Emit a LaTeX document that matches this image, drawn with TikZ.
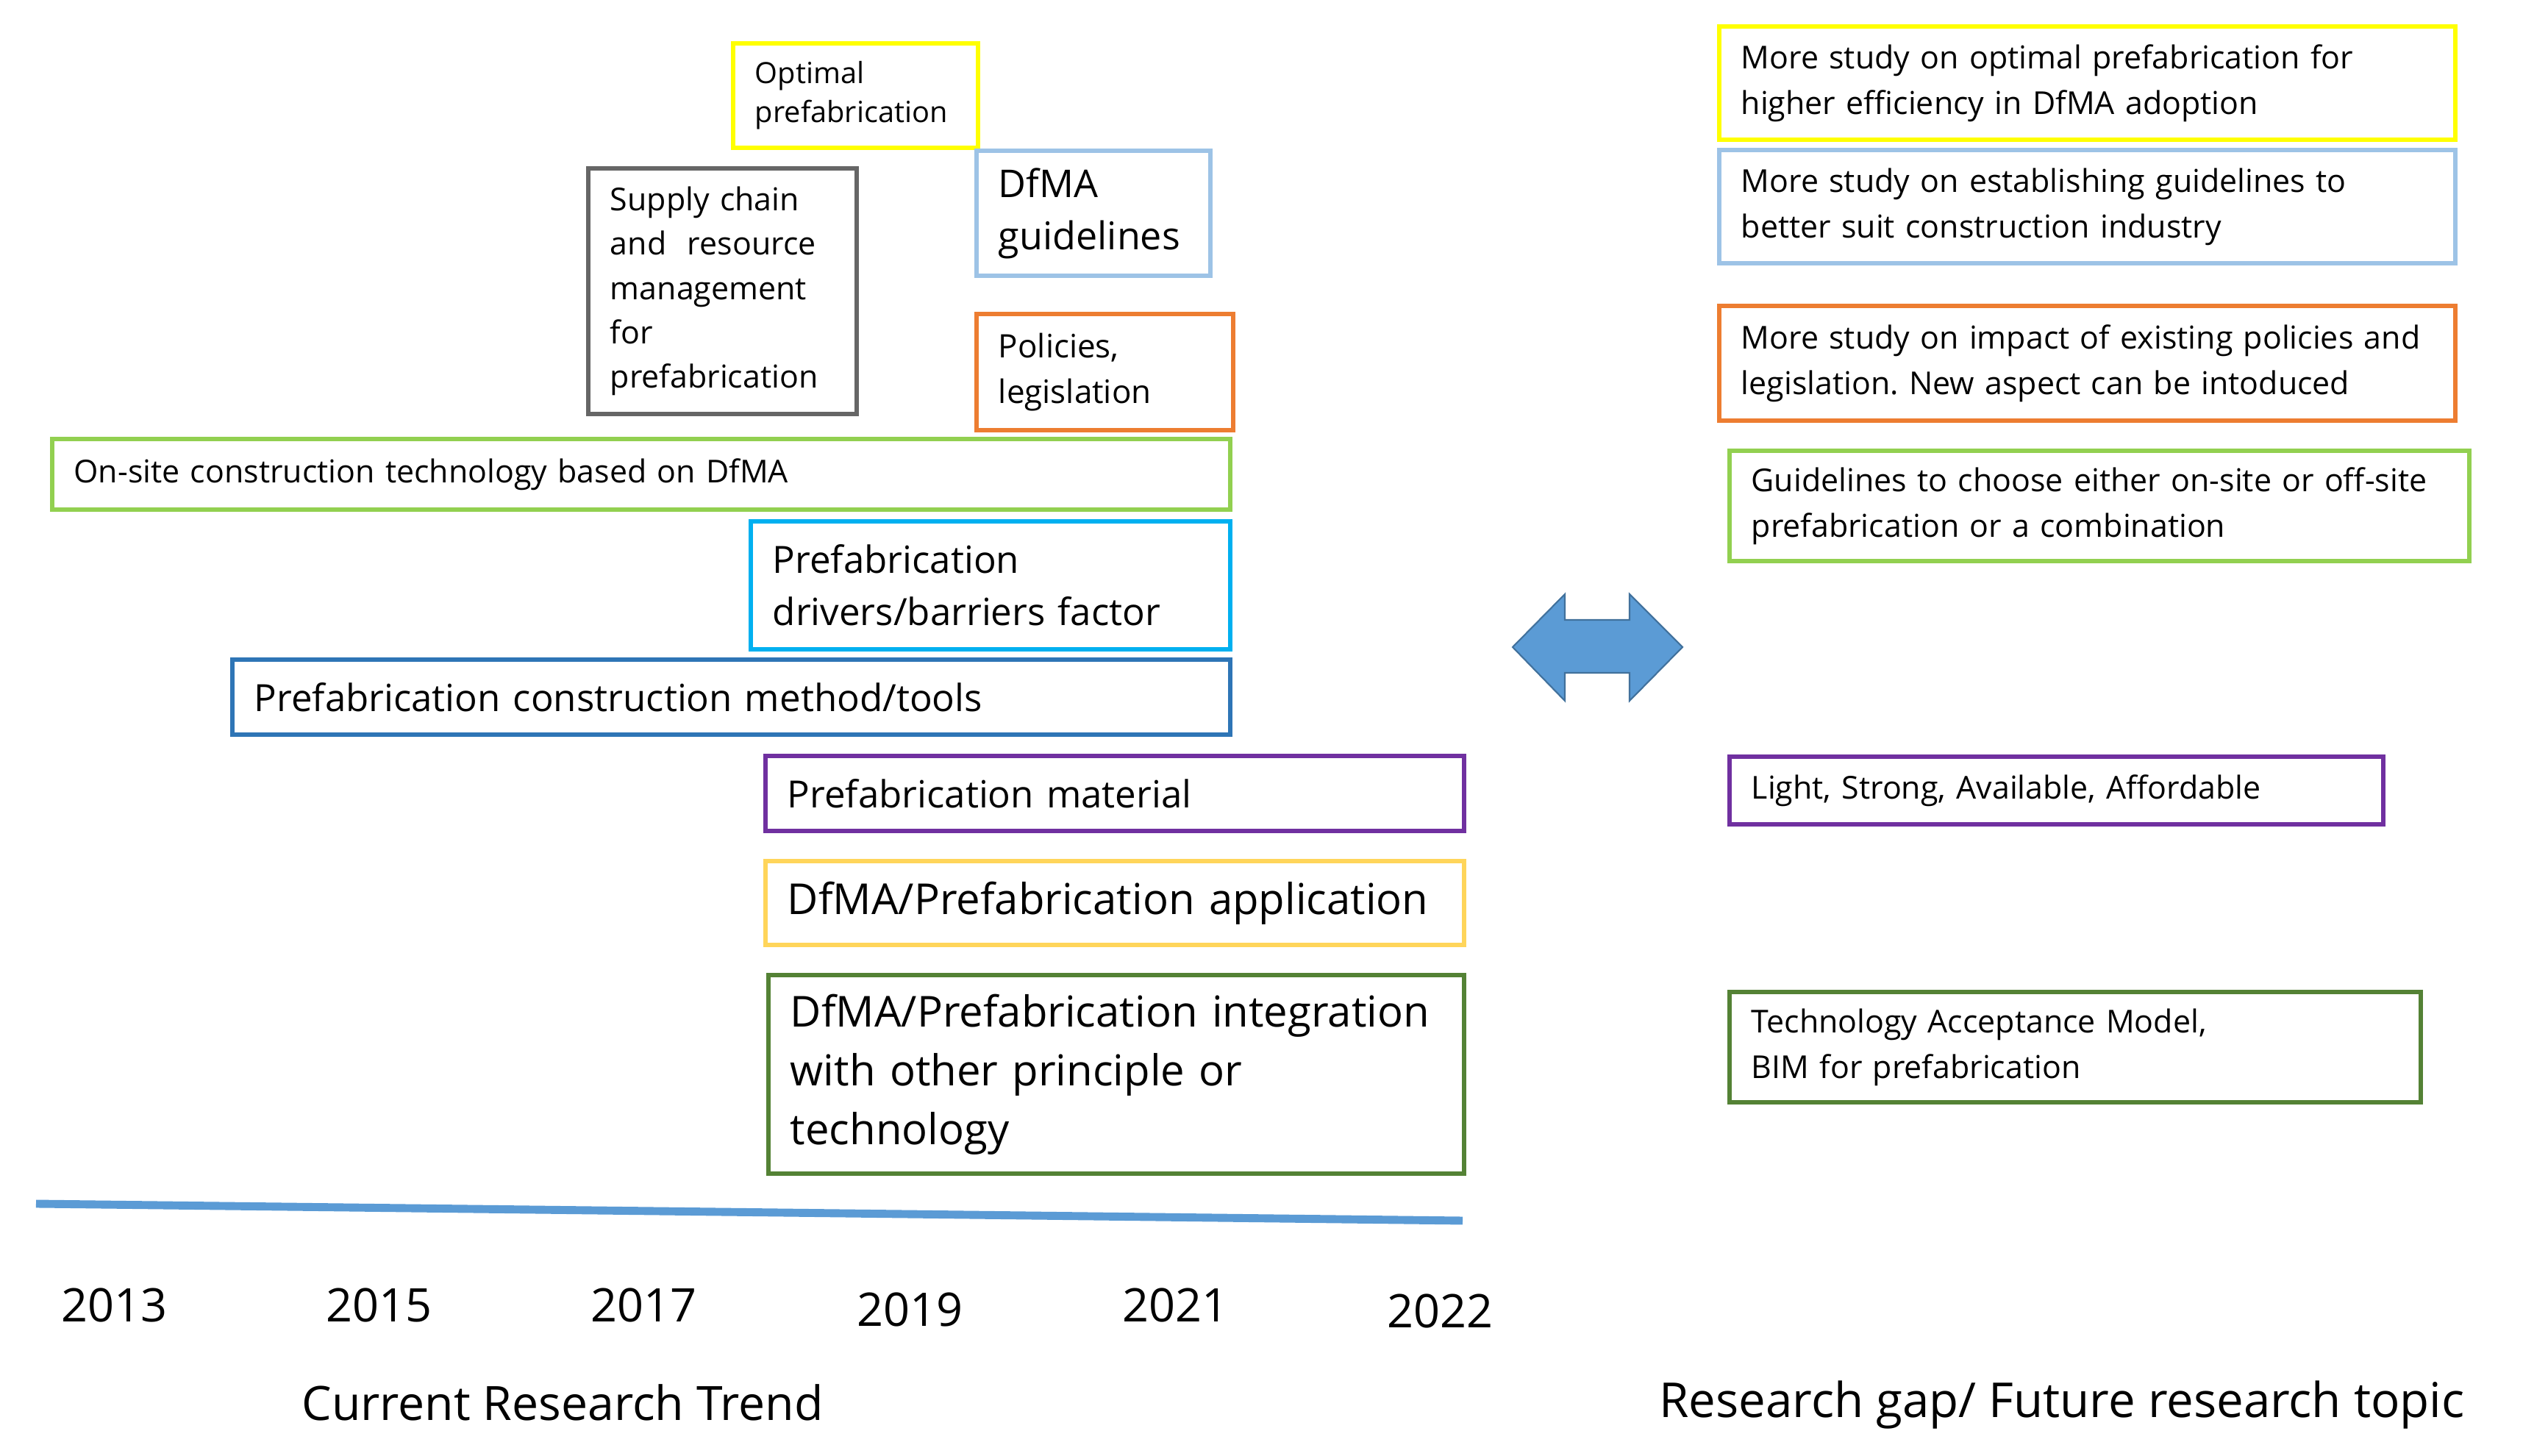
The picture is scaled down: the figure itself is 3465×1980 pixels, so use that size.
\documentclass[tikz,border=0pt]{standalone}
\usepackage{fontspec}
\setmainfont{Open Sans}
\definecolor{cyel}{HTML}{FFFF00}
\definecolor{clbl}{HTML}{9DC3E6}
\definecolor{cgry}{HTML}{666666}
\definecolor{corg}{HTML}{ED7D31}
\definecolor{clgr}{HTML}{92D050}
\definecolor{ccyn}{HTML}{00B0F0}
\definecolor{cblu}{HTML}{2E75B6}
\definecolor{cpur}{HTML}{7030A0}
\definecolor{cgld}{HTML}{FFD55A}
\definecolor{cdgr}{HTML}{548235}
\definecolor{carw}{HTML}{5B9BD5}
\definecolor{carb}{HTML}{41719C}
\newcommand{\nohyph}{\hyphenpenalty=10000 \exhyphenpenalty=10000 \frenchspacing}
\tikzset{
  box/.style={draw, line width=1.7pt, fill=white, align=left, inner xsep=0.30cm, inner ysep=0pt, anchor=center, text=black},
  fsmall/.style={font=\nohyph\fontsize{11.3pt}{15pt}\selectfont},
  fright/.style={font=\nohyph\fontsize{12.2pt}{17.6pt}\selectfont},
  fsup/.style={font=\nohyph\fontsize{12.2pt}{17.1pt}\selectfont},
  fmid/.style={font=\nohyph\fontsize{12.5pt}{17.6pt}\selectfont},
  fgdl/.style={font=\nohyph\fontsize{14.8pt}{20.2pt}\selectfont},
  fbig/.style={font=\nohyph\fontsize{14.5pt}{20.2pt}\selectfont},
  fhuge/.style={font=\nohyph\fontsize{16.5pt}{22.8pt}\selectfont},
  yearlbl/.style={font=\fontsize{17.9pt}{20pt}\selectfont, inner sep=0pt, anchor=center},
  titlelbl/.style={font=\fontsize{18.3pt}{21pt}\selectfont, inner sep=0pt, anchor=center},
  titlelblr/.style={font=\fontsize{18.6pt}{21pt}\selectfont, inner sep=0pt, anchor=center}
}
\begin{document}
\begin{tikzpicture}[x=0.01cm,y=-0.01cm]
\useasboundingbox[fill=white] (0,0) rectangle (3465,1980);

% left side: current research trend
\node[box, fsmall, draw=cyel, text width=2.73cm, minimum height=1.42cm] (opt) at (1163.5,130) {Optimal\\prefabrication};
\node[box, fsup, draw=cgry, text width=3.05cm, minimum height=3.33cm] (sup) at (982.5,396) {Supply chain\\and\ \ resource\\management\\for\\prefabrication};
\node[box, fgdl, draw=clbl, text width=2.58cm, minimum height=1.70cm] (gdl) at (1487,290) {DfMA\\guidelines};
\node[box, fmid, draw=corg, text width=2.89cm, minimum height=1.57cm] (pol) at (1502.5,506) {Policies,\\legislation};
\node[box, fsup, draw=clgr, text width=15.42cm, minimum height=0.95cm] (ons) at (872,645) {On-site construction technology based on DfMA};
\node[box, fbig, draw=ccyn, text width=5.92cm, minimum height=1.73cm] (drv) at (1347,796) {Prefabrication\\drivers/barriers factor};
\node[box, fbig, draw=cblu, text width=12.97cm, minimum height=1.02cm] (cst) at (994.5,948) {Prefabrication construction method/tools};
\node[box, fbig, draw=cpur, text width=8.90cm, minimum height=1.01cm] (mat) at (1516,1079) {Prefabrication material};
\node[box, fhuge, draw=cgld, text width=8.90cm, minimum height=1.13cm] (app) at (1516,1228) {DfMA/Prefabrication application};
\node[box, fhuge, draw=cdgr, text width=8.86cm, minimum height=2.69cm] (int) at (1518,1461) {DfMA/Prefabrication integration\\with other principle or\\technology};

% timeline
\coordinate (tl0) at (49,1637);
\coordinate (tl1) at (1989,1660);
\draw[carw, line width=3.1pt] (tl0) -- (tl1);
\node[yearlbl] (y13) at (155,1775) {2013};
\node[yearlbl] (y15) at (515,1775) {2015};
\node[yearlbl] (y17) at (875,1775) {2017};
\node[yearlbl] (y19) at (1237,1781) {2019};
\node[yearlbl] (y21) at (1598,1775) {2021};
\node[yearlbl] (y22) at (1958,1783) {2022};
\node[titlelbl] (ttl) at (765,1907) {Current Research Trend};

% double arrow
\draw[fill=carw, draw=carb, line width=0.6pt, line join=miter]
  (2057,880) -- (2128,808) -- (2128,843) -- (2216,843) -- (2216,808) -- (2288,880)
  -- (2216,953) -- (2216,915) -- (2128,915) -- (2128,953) -- cycle;

% right side: research gap
\node[box, fright, draw=cyel, text width=9.41cm, minimum height=1.53cm] (r1) at (2838.5,113) {More study on optimal prefabrication for\\higher efficiency in DfMA adoption};
\node[box, fright, draw=clbl, text width=9.41cm, minimum height=1.53cm] (r2) at (2838.5,281) {More study on establishing guidelines to\\better suit construction industry};
\node[box, fright, draw=corg, text width=9.41cm, minimum height=1.55cm] (r3) at (2838.5,494) {More study on impact of existing policies and\\legislation. New aspect can be intoduced};
\node[box, fright, draw=clgr, text width=9.46cm, minimum height=1.50cm] (r4) at (2855,688) {Guidelines to choose either on-site or off-site\\prefabrication or a combination};
\node[box, fright, draw=cpur, text width=8.29cm, minimum height=0.92cm] (r5) at (2796.5,1075) {Light, Strong, Available, Affordable};
\node[box, fright, draw=cdgr, text width=8.80cm, minimum height=1.50cm] (r6) at (2822,1424) {Technology Acceptance Model,\\BIM for prefabrication};
\node[titlelblr] (ttr) at (2804,1911) {Research gap/ Future research topic};
\end{tikzpicture}
\end{document}
